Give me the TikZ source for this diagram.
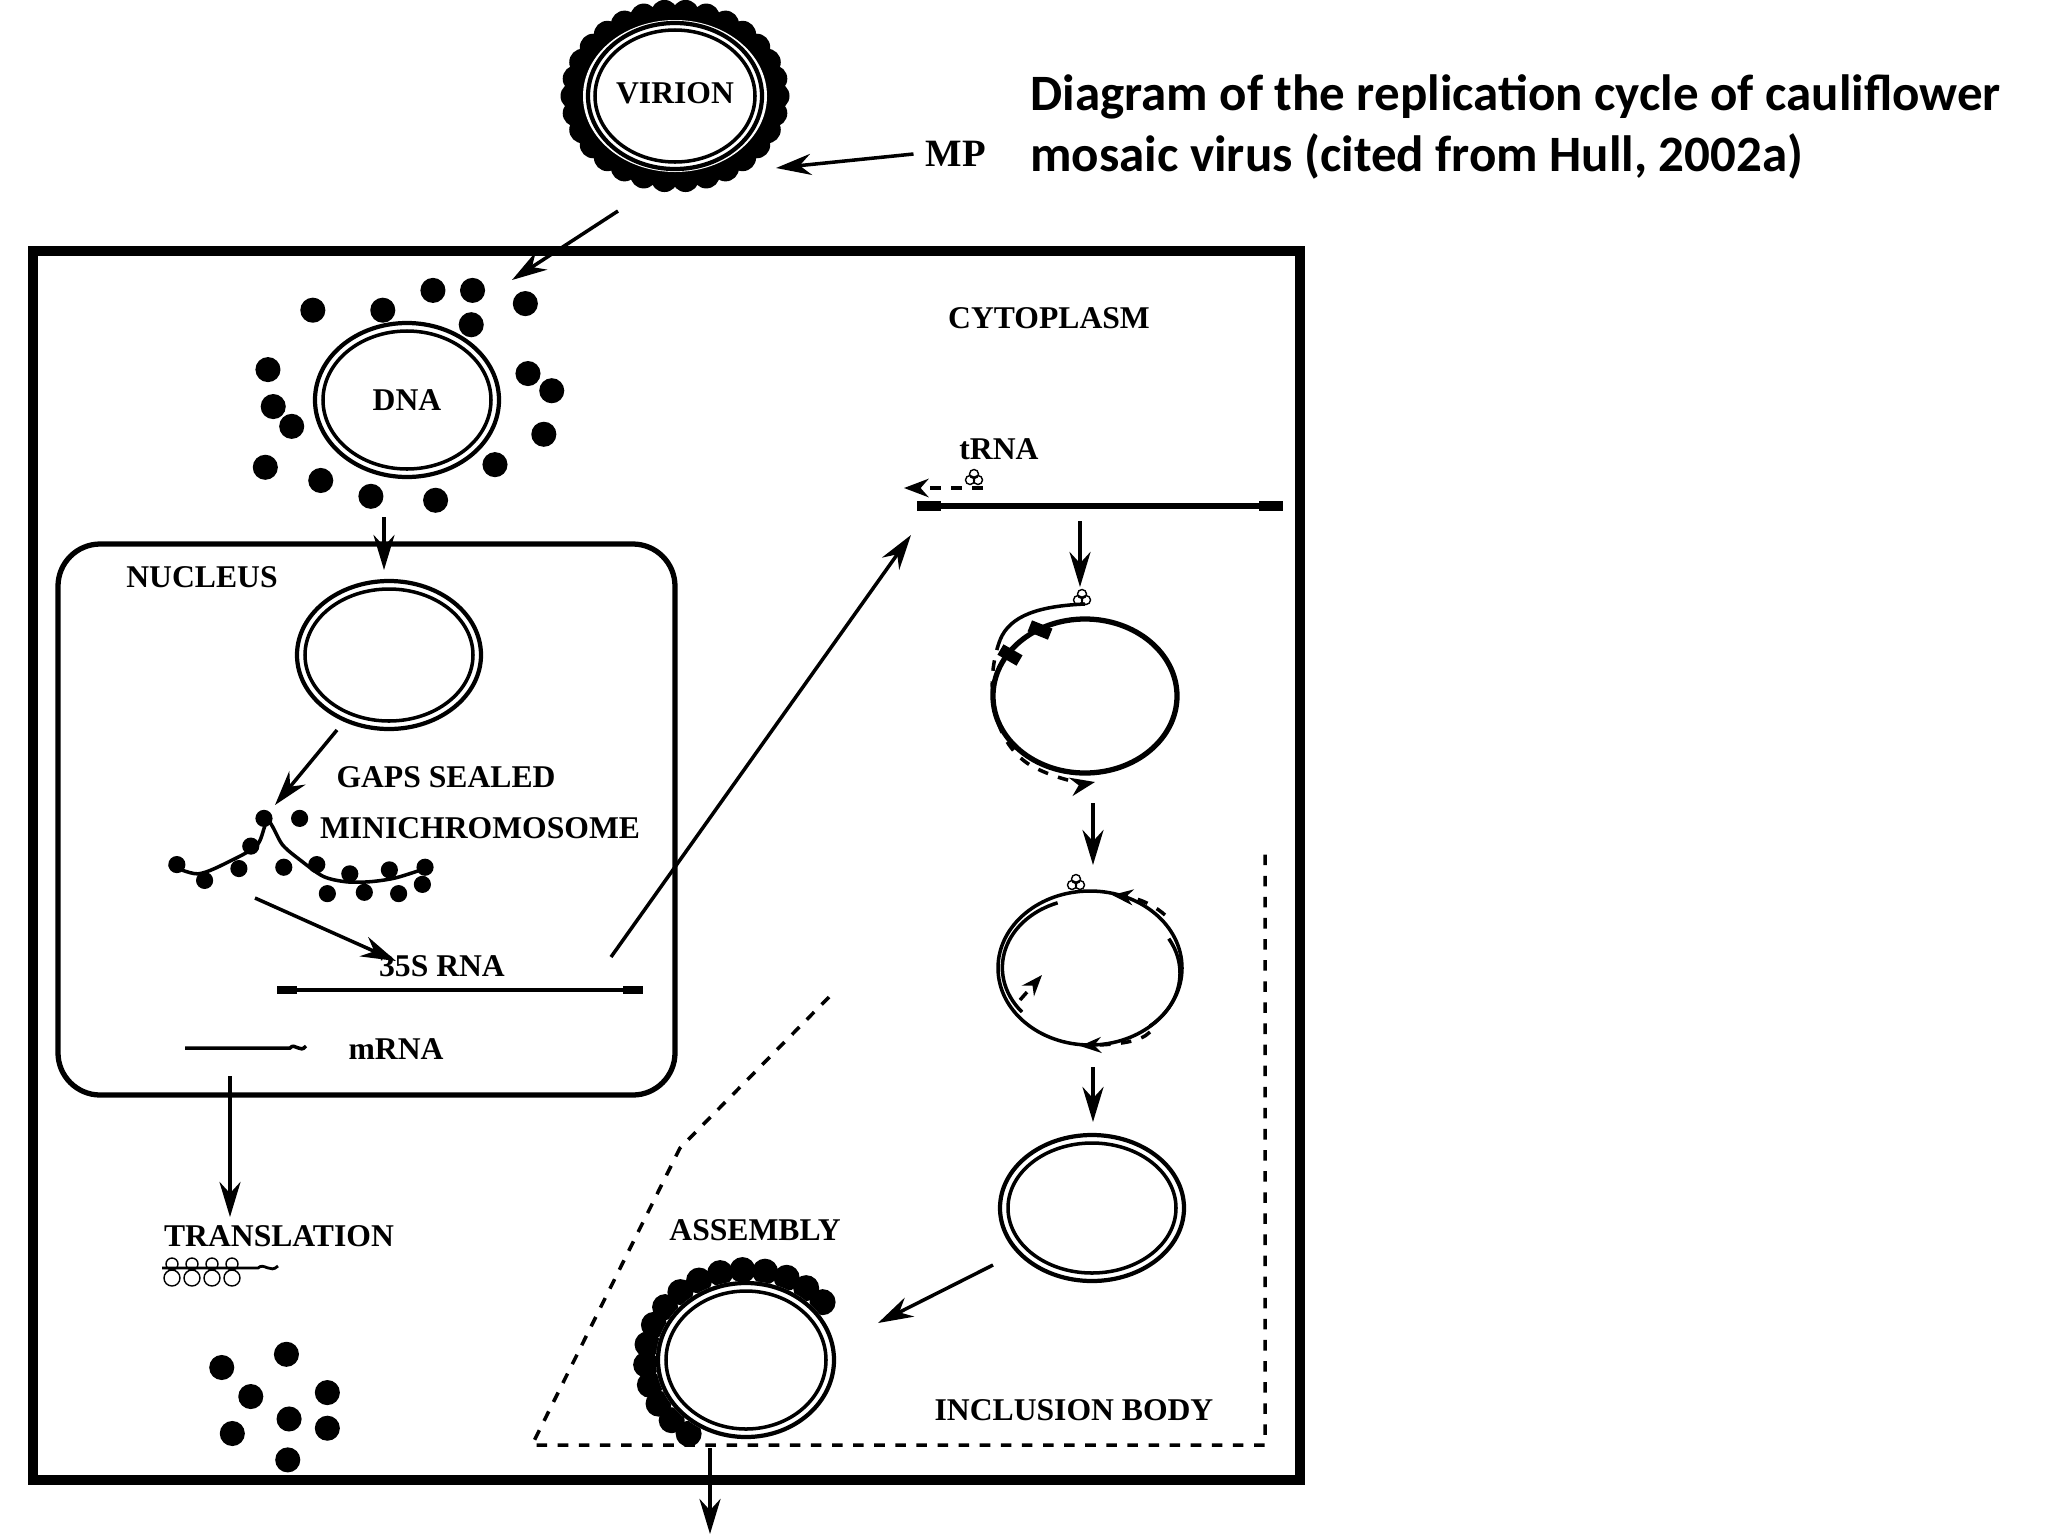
\documentclass[tikz,border=0pt]{standalone}
\usepackage{fontspec}
\setmainfont{Liberation Serif}
\newfontfamily\titlefont{Carlito}
\usetikzlibrary{arrows.meta}
\begin{document}
\begin{tikzpicture}[x=0.01cm,y=-0.01cm,
  lbl/.style={font=\fontsize{9}{10}\selectfont\bfseries},
  arr/.style={-{Stealth[length=10pt,width=6pt]},line width=1pt},
  dsh/.style={dashed,line width=1pt},
  disp/.style={x=1.32*0.01cm,y=-1.32*0.01cm}]
\useasboundingbox (0,0) rectangle (2048,1536);
% virion
\foreach \a in {0,12,...,359} \fill ({675+101*cos(\a)},{96+83*sin(\a)}) circle (13.5);
\fill[white] (675,96) ellipse (92 and 76);
\draw[line width=1.2pt] (675,96) ellipse (87 and 73);
\draw[line width=1pt] (675,96) ellipse (80 and 66);
\node[lbl] (vir) at (675,93) {VIRION};
\node[font=\fontsize{11}{12}\selectfont\bfseries] (mp) at (956,154) {MP};
\coordinate (mpt) at (776,168);
\draw[arr] (mp.west) -- (mpt);
\node[font=\titlefont\fontsize{14.5}{17.5}\selectfont\bfseries,align=left,anchor=north west] (title) at (1018,62) {Diagram of the replication cycle of cauliflower\\mosaic virus (cited from Hull, 2002a)};
% outer box
\draw[line width=3pt] (33,251) rectangle (1300,1480);
\coordinate (v1) at (618,211); \coordinate (v2) at (512,280);
\draw[arr] (v1) -- (v2);
% DNA
\draw[line width=1.2pt] (407,400) ellipse (92 and 77);
\draw[line width=1pt] (407,400) ellipse (84 and 69);
\node[lbl] (dna) at (407,400) {DNA};
\foreach \p in {(237,235),(290,235),(328,220),(358,220),(398,230),(357,246),(203,280),(418,296),(400,283),(207,308),(221,323),(412,329),(201,354),(243,364),(281,376),(330,379),(375,352)}
  \fill[disp] \p circle (9.5);
\coordinate (d1) at (384,517); \coordinate (d2) at (384,570);
\draw[arr] (d1) -- (d2);
% nucleus
\draw[line width=1.5pt,rounded corners=12pt] (58,544) rectangle (675,1095);
\node[lbl] (nuc) at (202,577) {NUCLEUS};
\draw[line width=1.2pt] (389,655) ellipse (92 and 74);
\draw[line width=1pt] (389,655) ellipse (84 and 66);
\coordinate (c1) at (337,730); \coordinate (c2) at (275,805);
\draw[arr] (c1) -- (c2);
\node[lbl] (gaps) at (446,777) {GAPS SEALED};
\node[lbl] (mini) at (480,828) {MINICHROMOSOME};
\draw[disp,line width=1pt] plot[smooth] coordinates {(128,655)(150,662)(175,652)(195,640)(203,622)(214,640)(228,652)(245,664)(262,668)(280,668)(300,665)(325,657)};
\foreach \p in {(134,655),(155,667),(181,658),(190,641),(200,620),(227,620),(215,657),(240,655),(248,677),(265,662),(276,676),(295,659),(302,677),(322,657),(320,670)}
  \fill[disp] \p circle (6.5);
\coordinate (m1) at (255,898); \coordinate (m2) at (396,961);
\draw[arr] (m1) -- (m2);
\node[lbl] (s35) at (442,966) {35S RNA};
\coordinate (r1) at (277,990); \coordinate (r2) at (643,990);
\draw[line width=1.2pt] (r1) -- (r2);
\fill (277,986) rectangle (297,994); \fill (623,986) rectangle (643,994);
\draw[line width=1pt] (185,1048) -- (290,1048) .. controls (295,1042) and (300,1054) .. (306,1046);
\node[lbl] (mrna) at (396,1049) {mRNA};
\coordinate (t1) at (230,1076); \coordinate (t2) at (230,1217);
\draw[arr] (t1) -- (t2);
\node[lbl] (trans) at (279,1236) {TRANSLATION};
\draw[line width=0.8pt] (162,1268) -- (258,1268) .. controls (264,1262) and (270,1274) .. (278,1266);
\foreach \x in {172,192,212,232} {\draw (\x,1278) circle (8); \draw (\x,1264) circle (6);}
\foreach \p in {(168,1036),(217,1026),(248,1055),(190,1058),(219,1075),(176,1086),(248,1082),(218,1106)}
  \fill[disp] \p circle (9.5);
% cytoplasm side
\coordinate (a1) at (611,957); \coordinate (a2) at (911,535);
\draw[arr] (a1) -- (a2);
\node[lbl] (cyto) at (1049,318) {CYTOPLASM};
\node[lbl] (trna) at (999,449) {tRNA};
\foreach \dx/\dy in {-4/0,4/0,0/-6} \draw (974+\dx,480+\dy) circle (4.5);
\coordinate (ta) at (983,488); \coordinate (tb) at (904,488);
\draw[dsh,-{Stealth[length=7pt]}] (ta) -- (tb);
\coordinate (g1) at (917,506); \coordinate (g2) at (1283,506);
\draw[line width=1.5pt] (g1) -- (g2);
\fill (917,501) rectangle (941,511); \fill (1259,501) rectangle (1283,511);
\coordinate (e1) at (1080,521); \coordinate (e2) at (1080,587);
\draw[arr] (e1) -- (e2);
% ellipse 1
\draw[line width=1.5pt] (1085,696) ellipse (92 and 77);
\foreach \dx/\dy in {-4/0,4/0,0/-6} \draw (1082+\dx,600+\dy) circle (4.5);
\draw[line width=1pt] (1085,604) .. controls (1040,606) and (1010,615) .. (1000,640);
\draw[dsh,-{Stealth[length=7pt]}] (1000,640) .. controls (985,680) and (990,740) .. (1030,765) .. controls (1060,782) and (1090,783) .. (1095,782);
\fill[rotate around={-30:(1010,655)}] (999,649) rectangle (1021,661);
\fill[rotate around={-22:(1040,630)}] (1029,624) rectangle (1051,636);
\coordinate (f1) at (1093,803); \coordinate (f2) at (1093,865);
\draw[arr] (f1) -- (f2);
% ellipse 2
\foreach \dx/\dy in {-4/0,4/0,0/-6} \draw (1076+\dx,885+\dy) circle (4.5);
\draw[line width=1pt] (1090,968) ellipse (92 and 77);
\draw[line width=1pt] (1022,1012) arc[start angle=140,end angle=250,x radius=84,y radius=69];
\draw[line width=1pt] (1150,1026) arc[start angle=50,end angle=-30,x radius=84,y radius=69];
\draw[dsh,-{Stealth[length=6pt]}] (1020,1000) -- (1042,975);
\draw[dsh,-{Stealth[length=6pt]}] (1165,915) .. controls (1148,900) and (1130,897) .. (1112,895);
\draw[dsh,-{Stealth[length=6pt]}] (1150,1032) .. controls (1140,1042) and (1120,1044) .. (1080,1046);
\coordinate (h1) at (1093,1067); \coordinate (h2) at (1093,1122);
\draw[arr] (h1) -- (h2);
% circle 3
\draw[line width=1.2pt] (1092,1208) ellipse (92 and 73);
\draw[line width=1pt] (1092,1208) ellipse (84 and 65);
\coordinate (k1) at (993,1265); \coordinate (k2) at (878,1323);
\draw[arr] (k1) -- (k2);
% assembly
\node[lbl] (asm) at (755,1230) {ASSEMBLY};
\foreach \a in {40,53,...,245} \fill ({746+100*cos(\a)},{1360-90*sin(\a)}) circle (13);
\fill[white] (746,1360) ellipse (90 and 79);
\draw[line width=1.2pt] (746,1360) ellipse (88 and 77);
\draw[line width=1pt] (746,1360) ellipse (80 and 69);
\node[lbl] (inc) at (1074,1410) {INCLUSION BODY};
\draw[dsh] (829,997) -- (680,1148) -- (532,1445) -- (1265,1445) -- (1265,851);
\coordinate (z1) at (710,1448); \coordinate (z2) at (710,1534);
\draw[arr] (z1) -- (z2);
\end{tikzpicture}
\end{document}
